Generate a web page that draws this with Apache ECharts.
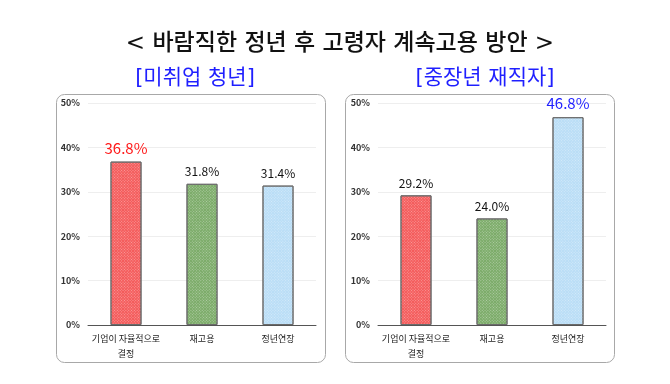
<!DOCTYPE html>
<html><head><meta charset="utf-8">
<script src="https://cdn.jsdelivr.net/npm/echarts@6/dist/echarts.min.js"></script>
<style>html,body{margin:0;padding:0;background:#fff}#c{width:670px;height:384px}</style>
</head><body><div id="c"></div>
<script>
const title = '< 바람직한 정년 후 고령자 계속고용 방안 >';
const panelTitles = ['[미취업 청년]', '[중장년 재직자]'];
const categories = ['기업이 자율적으로\n결정', '재고용', '정년연장'];
const youthValues = [36.8, 31.8, 31.4];
const seniorValues = [29.2, 24.0, 46.8];
const yTicks = [0, 10, 20, 30, 40, 50];

const barColors = ['#f45a5a', '#7bab68', '#b9ddf6'];
const font = '"Noto Sans CJK KR", "Noto Sans", sans-serif';
const titleFont = '"DejaVu Sans", "Noto Sans CJK KR", sans-serif';
const decal = {symbol:'rect', dashArrayX:[1,1], dashArrayY:[1,1], rotation:Math.PI/4, color:'rgba(255,255,255,0.4)', symbolSize:1};

function mkData(vals, highlightIdx, hlColor){
  return vals.map((v,i)=>({
    value:v,
    itemStyle:{color:barColors[i], borderColor:'#6b6b6b', borderWidth:1, decal:decal},
    label: i===highlightIdx ? {color:hlColor, fontSize:15} : {}
  }));
}

const chart = echarts.init(document.getElementById('c'), null, {renderer:'canvas'});
const grids = [
  {left:88, top:103, width:228, height:222},
  {left:378, top:103, width:228, height:222}
];
const xAxes = grids.map((g,i)=>({
  type:'category', gridIndex:i, data:categories,
  axisLine:{lineStyle:{color:'#555', width:1}}, axisTick:{show:false},
  axisLabel:{fontFamily:font, fontSize:9, color:'#222', lineHeight:15, margin:6, interval:0}
}));
const yAxes = grids.map((g,i)=>({
  type:'value', gridIndex:i, min:0, max:50, interval:10,
  axisLabel:{formatter: v => yTicks.includes(v) ? v+'%' : '', fontFamily:font, fontSize:9, fontWeight:'bold', color:'#333', margin:8, align:'right'},
  splitLine:{lineStyle:{color:'#eeeeee'}}, axisLine:{show:false}, axisTick:{show:false}
}));

chart.setOption({
  animation:false,
  aria:{enabled:false},
  title:[
    {text:title, left:335, textAlign:'center', top:28, textStyle:{fontFamily:titleFont, fontSize:23, fontWeight:500, color:'#111'}},
    {text:panelTitles[0], left:190, textAlign:'center', top:63, textStyle:{fontFamily:titleFont, fontSize:21, fontWeight:'normal', color:'#1f1fff'}},
    {text:panelTitles[1], left:480, textAlign:'center', top:63, textStyle:{fontFamily:titleFont, fontSize:21, fontWeight:'normal', color:'#1f1fff'}}
  ],
  graphic:[
    {type:'rect', shape:{x:56.5, y:94.5, width:269, height:268, r:8}, style:{fill:'none', stroke:'#a8a8a8', lineWidth:1}},
    {type:'rect', shape:{x:345.5, y:94.5, width:269, height:268, r:8}, style:{fill:'none', stroke:'#a8a8a8', lineWidth:1}}
  ],
  grid:grids,
  xAxis:xAxes,
  yAxis:yAxes,
  series:[
    {type:'bar', xAxisIndex:0, yAxisIndex:0, barWidth:31, data:mkData(youthValues,0,'#ff1a1a'),
     label:{show:true, position:'top', distance:6, formatter:p=>p.value.toFixed(1)+'%', fontFamily:font, fontSize:12, color:'#111'}},
    {type:'bar', xAxisIndex:1, yAxisIndex:1, barWidth:31, data:mkData(seniorValues,2,'#1f1fff'),
     label:{show:true, position:'top', distance:6, formatter:p=>p.value.toFixed(1)+'%', fontFamily:font, fontSize:12, color:'#111'}}
  ]
});
</script></body></html>
